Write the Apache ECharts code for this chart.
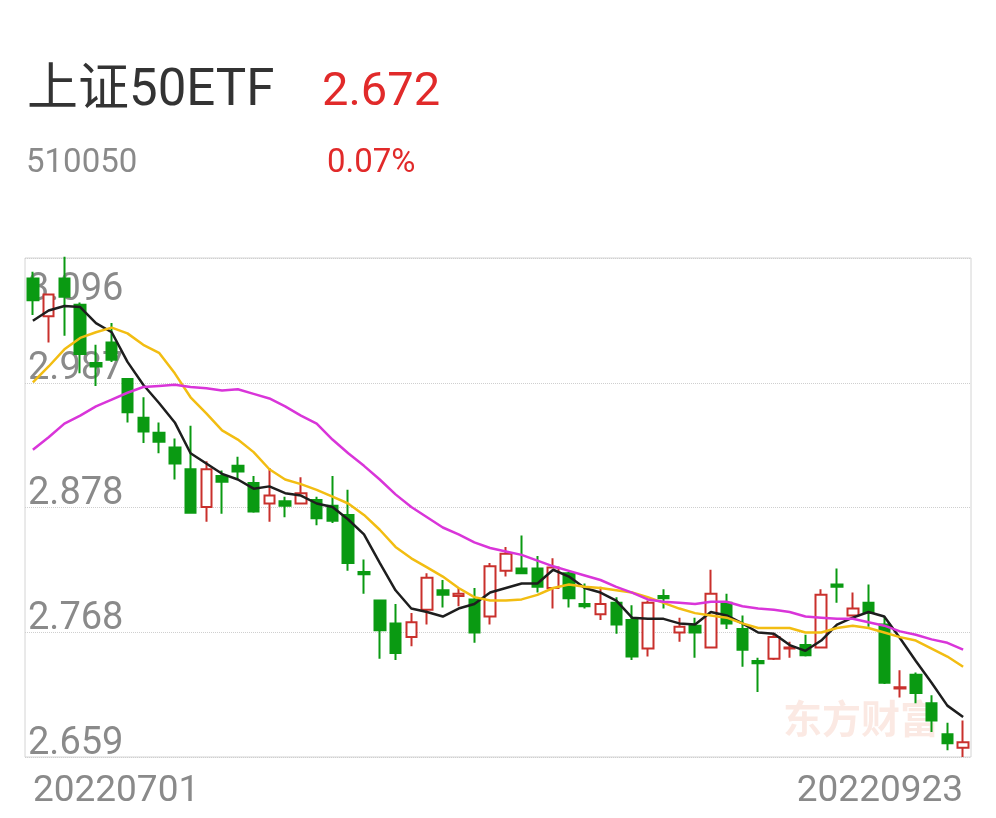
<!DOCTYPE html>
<html>
<head>
<meta charset="utf-8">
<title>上证50ETF</title>
<script src="https://cdn.jsdelivr.net/npm/echarts@6.0.0/dist/echarts.min.js"></script>
<style>
    html, body { margin: 0; padding: 0; background: #fff; }
    #main { width: 996px; height: 818px; }
</style>
</head>
<body>
<div id="main"></div>
<script>
    // 交易日
    var dates = [
        '20220701','20220704','20220705','20220706','20220707','20220708','20220711','20220712','20220713','20220714',
        '20220715','20220718','20220719','20220720','20220721','20220722','20220725','20220726','20220727','20220728',
        '20220729','20220801','20220802','20220803','20220804','20220805','20220808','20220809','20220810','20220811',
        '20220812','20220815','20220816','20220817','20220818','20220819','20220822','20220823','20220824','20220825',
        '20220826','20220829','20220830','20220831','20220901','20220902','20220905','20220906','20220907','20220908',
        '20220909','20220913','20220914','20220915','20220916','20220919','20220920','20220921','20220922','20220923'
    ];
    var openArr = [
        3.078,3.045,3.078,3.055,3.004,3.022,2.990,2.956,2.943,2.930,
        2.911,2.878,2.905,2.914,2.899,2.881,2.883,2.881,2.884,2.879,
        2.871,2.821,2.796,2.776,2.764,2.788,2.805,2.800,2.797,2.782,
        2.822,2.824,2.824,2.807,2.820,2.793,2.784,2.794,2.779,2.754,
        2.800,2.768,2.774,2.755,2.794,2.771,2.743,2.745,2.754,2.757,
        2.755,2.810,2.783,2.794,2.775,2.719,2.731,2.706,2.679,2.667
    ];
    var closeArr = [
        3.059,3.064,3.062,3.012,3.001,3.007,2.961,2.944,2.935,2.916,
        2.873,2.911,2.900,2.909,2.874,2.888,2.879,2.890,2.868,2.866,
        2.829,2.819,2.770,2.750,2.777,2.816,2.801,2.802,2.768,2.826,
        2.837,2.820,2.808,2.825,2.798,2.791,2.793,2.775,2.747,2.794,
        2.798,2.773,2.768,2.802,2.776,2.753,2.741,2.764,2.755,2.748,
        2.801,2.808,2.789,2.785,2.724,2.720,2.715,2.691,2.671,2.672
    ];
    var lowArr = [
        3.046,3.022,3.028,2.995,2.984,3.005,2.952,2.934,2.925,2.902,
        2.872,2.865,2.872,2.902,2.873,2.865,2.869,2.881,2.862,2.864,
        2.822,2.802,2.745,2.744,2.756,2.775,2.790,2.791,2.759,2.775,
        2.817,2.819,2.803,2.789,2.790,2.789,2.779,2.767,2.744,2.747,
        2.789,2.760,2.746,2.754,2.771,2.738,2.716,2.744,2.746,2.747,
        2.755,2.794,2.782,2.773,2.723,2.711,2.706,2.681,2.665,2.659
    ];
    var highArr = [
        3.084,3.065,3.097,3.057,3.020,3.039,2.991,2.974,2.952,2.938,
        2.949,2.918,2.910,2.922,2.905,2.912,2.887,2.904,2.887,2.905,
        2.893,2.832,2.796,2.793,2.785,2.820,2.814,2.807,2.807,2.829,
        2.843,2.853,2.835,2.833,2.821,2.811,2.808,2.799,2.792,2.796,
        2.806,2.781,2.781,2.823,2.802,2.783,2.746,2.766,2.760,2.766,
        2.806,2.824,2.803,2.810,2.782,2.735,2.733,2.713,2.689,2.691
    ];
    // 均线
    var ma5 = [
        3.041,3.050,3.054,3.053,3.039,3.031,3.005,2.985,2.969,2.952,
        2.925,2.916,2.907,2.902,2.894,2.896,2.890,2.888,2.881,2.878,
        2.867,2.854,2.829,2.805,2.789,2.786,2.782,2.789,2.793,2.803,
        2.807,2.811,2.811,2.823,2.817,2.807,2.803,2.796,2.781,2.780,
        2.780,2.776,2.775,2.786,2.783,2.776,2.768,2.767,2.757,2.752,
        2.761,2.775,2.781,2.786,2.782,2.763,2.743,2.724,2.704,2.694
    ];
    var ma10 = [
        2.987,3.001,3.016,3.026,3.031,3.035,3.030,3.020,3.013,2.995,
        2.974,2.960,2.945,2.937,2.926,2.911,2.902,2.898,2.893,2.887,
        2.881,2.871,2.858,2.843,2.833,2.825,2.817,2.807,2.799,2.796,
        2.796,2.797,2.801,2.807,2.810,2.808,2.807,2.805,2.803,2.799,
        2.794,2.789,2.785,2.783,2.781,2.776,2.772,2.772,2.772,2.768,
        2.768,2.772,2.774,2.772,2.768,2.764,2.761,2.754,2.747,2.738
    ];
    var ma20 = [
        2.928,2.939,2.951,2.958,2.966,2.972,2.978,2.983,2.984,2.985,
        2.983,2.982,2.980,2.981,2.977,2.973,2.966,2.958,2.951,2.937,
        2.925,2.914,2.902,2.889,2.878,2.869,2.860,2.854,2.847,2.842,
        2.839,2.836,2.831,2.826,2.822,2.818,2.814,2.808,2.803,2.797,
        2.795,2.794,2.793,2.795,2.795,2.791,2.789,2.788,2.786,2.782,
        2.781,2.780,2.780,2.777,2.774,2.769,2.766,2.762,2.759,2.753
    ];
    // 纵轴刻度
    var yTicks = ['2.659', '2.768', '2.878', '2.987', '3.096'];
    var yMin = 2.659, yMax = 3.096;

    var upColor = '#c9302c';
    var downColor = '#0a9a12';
    var labelColor = '#8a8a8a';
    var fontFamily = 'Roboto, "Noto Sans CJK SC", sans-serif';

    // 蜡烛图数据 [open, close, low, high]
    var kData = [];
    for (var i = 0; i < dates.length; i++) {
        kData.push([openArr[i], closeArr[i], lowArr[i], highArr[i]]);
    }

    var myChart = echarts.init(document.getElementById('main'));

    var option = {
        backgroundColor: '#fff',
        animation: false,
        title: [
            {
                text: '上证50ETF', left: 22, top: 62,
                textStyle: { color: '#333', fontSize: 51, fontWeight: 'normal', fontFamily: fontFamily }
            },
            {
                text: '2.672', left: 317, top: 65,
                textStyle: { color: '#e12a2a', fontSize: 47, fontWeight: 'normal', fontFamily: fontFamily }
            },
            {
                text: '510050', left: 21, top: 142,
                textStyle: { color: labelColor, fontSize: 33, fontWeight: 'normal', fontFamily: fontFamily }
            },
            {
                text: '0.07%', left: 322, top: 142,
                textStyle: { color: '#e12a2a', fontSize: 33, fontWeight: 'normal', fontFamily: fontFamily }
            }
        ],
        graphic: [
            {
                type: 'text', left: 783, top: 699, silent: true,
                style: { text: '东方财富', fill: 'rgba(232,120,80,0.16)', fontSize: 39, fontWeight: 'bold', fontFamily: '"Noto Sans CJK SC"' }
            }
        ],
        grid: {
            left: 25, top: 258, width: 946, height: 499,
            show: true, borderColor: '#d4d4d4', borderWidth: 1, backgroundColor: 'transparent',
            outerBoundsMode: 'none'
        },
        xAxis: {
            type: 'category',
            data: dates,
            boundaryGap: true,
            axisLine: { show: false },
            axisTick: { show: false },
            splitLine: { show: false },
            axisLabel: {
                interval: function (index) {
                    return index === 0 || index === dates.length - 1;
                },
                alignMinLabel: 'left',
                alignMaxLabel: 'right',
                margin: 16,
                padding: [0, 0, 0, 0],
                color: labelColor, fontSize: 37, fontFamily: fontFamily,
                formatter: function (v, idx) {
                    return v;
                }
            }
        },
        yAxis: [
            {
                // 价格轴
                type: 'value', min: yMin, max: yMax, scale: true,
                axisLine: { show: false }, axisTick: { show: false },
                axisLabel: { show: false }, splitLine: { show: false }
            },
            {
                // 刻度标签与虚线 (下方四个)
                type: 'value', min: 0, max: 4, interval: 1, position: 'left',
                axisLine: { show: false }, axisTick: { show: false },
                splitLine: { show: true, lineStyle: { color: '#cfcfcf', type: 'dotted', width: 1 } },
                axisLabel: {
                    inside: true, margin: 3, verticalAlign: 'bottom', lineHeight: 26,
                    color: labelColor, fontSize: 38, fontFamily: fontFamily,
                    formatter: function (v) { return v < 4 ? yTicks[v] : ''; }
                }
            },
            {
                // 顶部刻度标签
                type: 'value', min: 0, max: 4, interval: 1, position: 'left',
                axisLine: { show: false }, axisTick: { show: false }, splitLine: { show: false },
                axisLabel: {
                    inside: true, margin: 3, verticalAlign: 'top', padding: [13, 0, 0, 0],
                    color: labelColor, fontSize: 38, fontFamily: fontFamily,
                    formatter: function (v) { return v === 4 ? yTicks[4] : ''; }
                }
            }
        ],
        series: [
            {
                name: 'K', type: 'candlestick', data: kData, yAxisIndex: 0,
                barWidth: 11,
                itemStyle: {
                    color: '#fff', color0: downColor,
                    borderColor: upColor, borderColor0: downColor, borderWidth: 2
                }
            },
            {
                name: 'MA5', type: 'line', data: ma5, yAxisIndex: 0, symbol: 'none',
                lineStyle: { color: '#1e1e1e', width: 2.5 }, z: 3
            },
            {
                name: 'MA10', type: 'line', data: ma10, yAxisIndex: 0, symbol: 'none',
                lineStyle: { color: '#f2bd12', width: 2.5 }, z: 3
            },
            {
                name: 'MA20', type: 'line', data: ma20, yAxisIndex: 0, symbol: 'none',
                lineStyle: { color: '#d935d9', width: 2.5 }, z: 3
            }
        ]
    };

    myChart.setOption(option);
</script>
</body>
</html>
